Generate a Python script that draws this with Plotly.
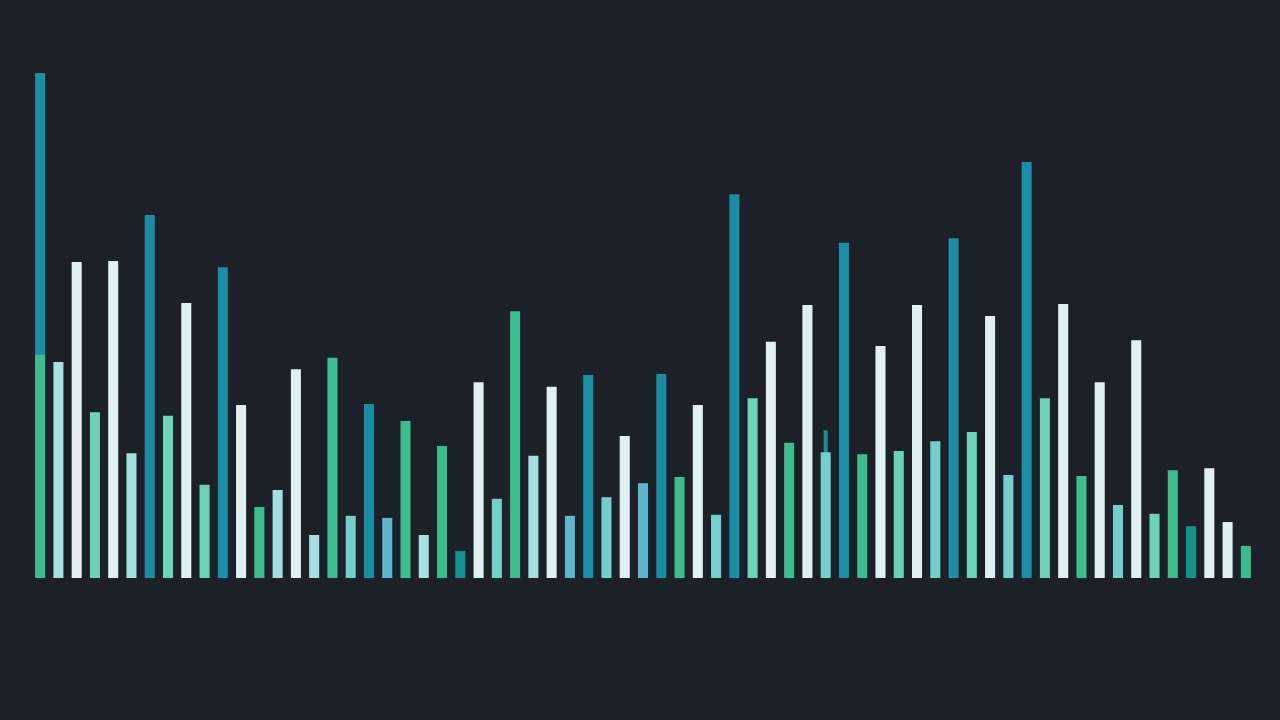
import plotly.graph_objects as go

# ---- data ----
categories = [str(i) for i in range(1, 68)]

front_values = [
    43.1, 41.7, 61.0, 32.0, 61.2, 24.1, 70.1, 31.3, 53.1, 18.0,
    60.0, 33.4, 13.7, 17.0, 40.3, 8.3, 42.5, 12.0, 33.6, 11.6,
    30.3, 8.3, 25.5, 5.2, 37.8, 15.3, 51.5, 23.6, 36.9, 12.0,
    39.2, 15.6, 27.4, 18.3, 39.4, 19.5, 33.4, 12.2, 74.1, 34.7,
    45.6, 26.1, 52.7, 24.3, 64.7, 23.9, 44.8, 24.5, 52.7, 26.4,
    65.6, 28.2, 50.6, 19.9, 80.3, 34.7, 52.9, 19.7, 37.8, 14.1,
    45.9, 12.4, 20.8, 10.0, 21.2, 10.8, 6.2,
]

# values of the bars seen behind (only two positions have one)
back_values = [None] * 67
back_values[0] = 97.5
back_values[43] = 28.5

# ---- styles ----
PAL = {
    "T": "#1b8ea3",  # teal
    "G": "#3dbd8d",  # green
    "C": "#a6dfe0",  # light cyan
    "W": "#e1f0f4",  # near white
    "M": "#6dd2bb",  # mint
    "B": "#5db6cb",  # light blue
    "K": "#74cfcb",  # mid cyan
    "D": "#15928d",  # dark teal
}
front_codes = (
    "G C W M W C T M W M "
    "T W G C W C G K T B "
    "G C G D W K G C W B "
    "T K W B T G W K T M "
    "W G W K T G W M W K "
    "T M W K T M W G W K "
    "W M G D W W G"
).split()
front_colors = [PAL[c] for c in front_codes]
back_colors = [PAL["T"]] * 67
back_colors[43] = PAL["D"]
back_widths = [0.55] * 67
back_widths[43] = 0.22

fig = go.Figure()
fig.add_trace(go.Bar(
    x=categories, y=back_values,
    marker=dict(color=back_colors, line=dict(width=0)),
    width=back_widths, hoverinfo="skip", showlegend=False,
))
fig.add_trace(go.Bar(
    x=categories, y=front_values,
    marker=dict(color=front_colors, line=dict(width=0)),
    width=0.55, showlegend=False,
))

BG = "#1c2129"
fig.update_layout(
    width=1280, height=720,
    barmode="overlay",
    paper_bgcolor=BG, plot_bgcolor=BG,
    margin=dict(l=31, r=25, t=60, b=142),
    xaxis=dict(visible=False, type="category"),
    yaxis=dict(visible=False, range=[0, 100]),
)

fig.write_html(
    "out.html",
    config={"displayModeBar": False},
    post_script="document.body.style.margin='0';document.body.style.background='#1c2129';document.body.style.overflow='hidden';",
)
